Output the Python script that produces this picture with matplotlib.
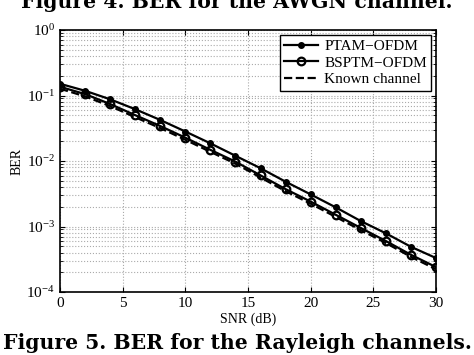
import numpy as np
from matplotlib import pyplot as plt
from matplotlib.ticker import LogLocator, NullFormatter

snr = np.arange(0, 31, 2)
ptam = [0.151, 0.118, 0.0875, 0.0617, 0.0423, 0.0282, 0.0186, 0.0120,
        0.00776, 0.00483, 0.00309, 0.00196, 0.00121, 0.000787, 0.00049, 0.00033]
bsptm = [0.136, 0.105, 0.0741, 0.0501, 0.0342, 0.0227, 0.0148, 0.00977,
         0.00603, 0.00372, 0.0024, 0.00151, 0.00095, 0.0006, 0.00037, 0.00024]
known = [0.127, 0.097, 0.069, 0.0466, 0.0318, 0.0211, 0.0138, 0.0091,
         0.0056, 0.00346, 0.00223, 0.0014, 0.00088, 0.00056, 0.000344, 0.000223]

plt.rcParams['font.family'] = ['Liberation Serif', 'DejaVu Serif']
plt.rcParams['mathtext.fontset'] = 'stix'

fig = plt.figure(figsize=(4.74, 3.55), dpi=100)
ax = fig.add_axes([60/474, 1-292/355, 376/474, 262/355])

ax.semilogy(snr, ptam, 'k-', marker='o', ms=4, lw=1.6, label='PTAM\u2212OFDM')
ax.semilogy(snr, bsptm, 'k-', marker='o', ms=5.5, mfc='none', mew=1.6, lw=1.6,
            label='BSPTM\u2212OFDM')
ax.semilogy(snr, known, 'k--', lw=1.6, label='Known channel')

ax.set_xlim(0, 30)
ax.set_ylim(1e-4, 1)
ax.set_xticks(range(0, 31, 5))
ax.yaxis.set_minor_locator(LogLocator(base=10, subs=np.arange(2, 10)))
ax.yaxis.set_minor_formatter(NullFormatter())
ax.grid(True, which='major', ls=':', color='#aaaaaa', lw=0.8)
ax.grid(True, which='minor', axis='y', ls=':', color='#aaaaaa', lw=0.8)
ax.tick_params(direction='in', top=True, right=True, labelsize=11)
ax.tick_params(which='minor', direction='in', right=True)
for s in ax.spines.values():
    s.set_linewidth(1.2)

ax.set_xlabel('SNR (dB)', fontsize=10, labelpad=2)
ax.set_ylabel('BER', fontsize=10, labelpad=2)

leg = ax.legend(loc='upper right', fontsize=11, frameon=True, fancybox=False,
                edgecolor='black', framealpha=1, handlelength=2.2,
                borderpad=0.3, labelspacing=0.2, handletextpad=0.4,
                borderaxespad=0.3)
leg.get_frame().set_linewidth(1.0)

# caption of this figure
fig.text(0.5, 1-343/355, 'Figure 5. BER for the Rayleigh channels.',
         ha='center', va='center', fontsize=14.7, fontweight='bold',
         family=['DejaVu Serif'])
# bottom of the previous caption, cut by the page edge
fig.text(0.5, 1-8/355, 'Figure 4. BER for the AWGN channel.',
         ha='center', va='baseline', fontsize=14.7, fontweight='bold',
         family=['DejaVu Serif'])

fig.savefig('out.png', dpi=100)
